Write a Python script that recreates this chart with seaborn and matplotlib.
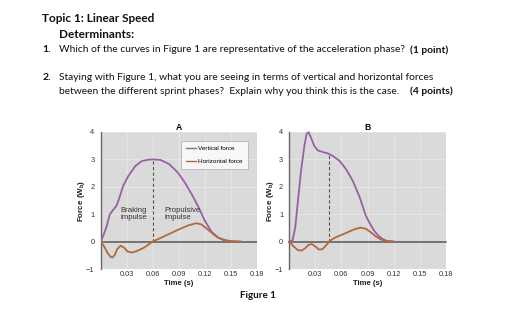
import matplotlib
matplotlib.use("Agg")
import matplotlib.pyplot as plt
import seaborn as sns
import pandas as pd

# ---------------- data ----------------
a_vert_t = [0, 0.003, 0.0066, 0.0105, 0.0144, 0.0183, 0.021, 0.026, 0.032, 0.040, 0.0475, 0.055, 0.060,
            0.069, 0.079, 0.089, 0.097, 0.105, 0.113, 0.120, 0.128, 0.136, 0.144, 0.151, 0.161]
a_vert_f = [0, 0.22, 0.53, 0.99, 1.16, 1.31, 1.55, 2.04, 2.40, 2.76, 2.94, 2.99, 3.0,
            2.98, 2.83, 2.52, 2.16, 1.73, 1.25, 0.77, 0.35, 0.14, 0.05, 0.01, 0]
a_hor_t = [0, 0.004, 0.008, 0.0115, 0.0135, 0.016, 0.019, 0.023, 0.027, 0.031, 0.036, 0.042, 0.050,
           0.056, 0.060, 0.073, 0.089, 0.101, 0.110, 0.116, 0.124, 0.134, 0.142, 0.151, 0.161]
a_hor_f = [0, -0.18, -0.42, -0.56, -0.58, -0.50, -0.28, -0.15, -0.22, -0.36, -0.40, -0.34, -0.22,
           -0.09, 0, 0.19, 0.43, 0.59, 0.67, 0.63, 0.43, 0.17, 0.05, 0.01, 0]

b_vert_t = [0, 0.0038, 0.0069, 0.0096, 0.0135, 0.0173, 0.020, 0.0223, 0.025, 0.0288, 0.0327, 0.0385,
            0.0442, 0.050, 0.0577, 0.0654, 0.073, 0.081, 0.088, 0.093, 0.098, 0.103, 0.108, 0.112, 0.120]
b_vert_f = [0, 0.05, 0.53, 1.38, 2.58, 3.49, 3.94, 3.99, 3.79, 3.49, 3.33, 3.27,
            3.22, 3.13, 2.95, 2.64, 2.22, 1.62, 0.95, 0.64, 0.38, 0.20, 0.08, 0.03, 0]
b_hor_t = [0, 0.005, 0.010, 0.014, 0.018, 0.022, 0.026, 0.030, 0.034, 0.038, 0.042, 0.046, 0.050,
           0.055, 0.065, 0.075, 0.082, 0.088, 0.093, 0.100, 0.106, 0.112, 0.120]
b_hor_f = [0, -0.18, -0.31, -0.33, -0.25, -0.12, -0.09, -0.18, -0.29, -0.28, -0.15, 0, 0.10,
           0.18, 0.31, 0.45, 0.51, 0.47, 0.36, 0.18, 0.07, 0.02, 0]

a_dash = (0.060, 3.0)
b_dash = (0.046, 3.22)

x_ticks = [0.03, 0.06, 0.09, 0.12, 0.15, 0.18]
x_tick_labels = ["0.03", "0.06", "0.09", "0.12", "0.15", "0.18"]
y_ticks = [-1, 0, 1, 2, 3, 4]
y_tick_labels = ["\u22121", "0", "1", "2", "3", "4"]
series_names = ["Vertical force", "Horizontal force"]

# ---------------- style ----------------
W, H = 532, 330
VCOL = "#9a5fa6"
HCOL = "#b06a3b"
BG = "#dadada"
GRID = "#ece5e5"
CHART_FONT = ["Liberation Sans", "DejaVu Sans"]
TEXT_FONT = ["Lato", "DejaVu Sans"]
TICK_FS = 5.3

fig = plt.figure(figsize=(W / 100, H / 100), dpi=100)
fig.patch.set_facecolor("white")


def px_axes(l, t, r, b):
    return fig.add_axes([l / W, 1 - b / H, (r - l) / W, (b - t) / H])


def style_axes(ax, title, dash):
    ax.set_facecolor(BG)
    ax.set_xlim(0, 0.18)
    ax.set_ylim(-1, 4)
    ax.set_xticks(x_ticks)
    ax.set_xticklabels(x_tick_labels, fontsize=TICK_FS, color="#333333", family=CHART_FONT)
    ax.set_yticks(y_ticks)
    ax.set_yticklabels(y_tick_labels, fontsize=TICK_FS, color="#333333", family=CHART_FONT)
    ax.tick_params(axis="both", length=0)
    ax.tick_params(axis="x", pad=1.2)
    ax.tick_params(axis="y", pad=4.5)
    ax.grid(True, color=GRID, linewidth=0.6)
    ax.set_axisbelow(True)
    for s in ["top", "right", "bottom"]:
        ax.spines[s].set_visible(False)
    ax.spines["left"].set_color("#666666")
    ax.spines["left"].set_linewidth(1.0)
    ax.axhline(0, color="#555555", linewidth=1.1, zorder=1)
    ax.plot([dash[0], dash[0]], [0, dash[1]], linestyle=(0, (3, 2)), color="#555555",
            linewidth=0.8, zorder=1.5)
    ax.set_xlabel("Time (s)", fontsize=5.6, fontweight="bold", color="#222222",
                  family=CHART_FONT, labelpad=1.5)
    ax.set_ylabel(r"Force (W$_\mathregular{b}$)", fontsize=5.8, fontweight="bold",
                  color="#222222", family=CHART_FONT, labelpad=-1.0)
    ax.set_title(title, fontsize=6.2, fontweight="bold", family=CHART_FONT, pad=1.8)


# Panel A
axA = px_axes(100.7, 132, 256.7, 269)
dfA_v = pd.DataFrame({"t": a_vert_t, "f": a_vert_f})
dfA_h = pd.DataFrame({"t": a_hor_t, "f": a_hor_f})
sns.lineplot(data=dfA_v, x="t", y="f", ax=axA, color=VCOL, linewidth=1.3, sort=False,
             estimator=None, label=series_names[0], zorder=3)
sns.lineplot(data=dfA_h, x="t", y="f", ax=axA, color=HCOL, linewidth=1.3, sort=False,
             estimator=None, label=series_names[1], zorder=3)
style_axes(axA, "A", a_dash)
axA.text(0.0378, 1.0, "Braking\nimpulse", ha="center", va="center", fontsize=5.6,
         color="#333333", family=CHART_FONT, linespacing=1.0)
axA.text(0.0735, 1.0, "Propulsive\nimpulse", ha="left", va="center", fontsize=5.6,
         color="#333333", family=CHART_FONT, linespacing=1.0)
leg = axA.legend(loc="upper right", frameon=True, fancybox=False,
                 handlelength=1.5, borderpad=0.75, labelspacing=1.15, handletextpad=0.45,
                 bbox_to_anchor=(0.963, 0.96), prop={"family": CHART_FONT, "size": 4.6})
leg.get_frame().set_facecolor("white")
leg.get_frame().set_edgecolor("#aaaaaa")
leg.get_frame().set_linewidth(0.6)
for line in leg.get_lines():
    line.set_linewidth(1.0)

# Panel B
axB = px_axes(289.3, 132, 445.7, 269)
dfB_v = pd.DataFrame({"t": b_vert_t, "f": b_vert_f})
dfB_h = pd.DataFrame({"t": b_hor_t, "f": b_hor_f})
sns.lineplot(data=dfB_v, x="t", y="f", ax=axB, color=VCOL, linewidth=1.3, sort=False,
             estimator=None, legend=False, zorder=3)
sns.lineplot(data=dfB_h, x="t", y="f", ax=axB, color=HCOL, linewidth=1.3, sort=False,
             estimator=None, legend=False, zorder=3)
style_axes(axB, "B", b_dash)
for ln in axB.get_lines():
    ln.set_clip_on(False)


def ftext(x, y, s, **kw):
    fig.text(x / W, 1 - y / H, s, va="center", family=TEXT_FONT, color="#111111", **kw)


QFS = 7.4
ftext(42.5, 19, "Topic 1: Linear Speed", fontsize=8.5, fontweight="bold")
ftext(58.5, 34, "Determinants:", fontsize=8.5, fontweight="bold")
ftext(42.5, 50, "1.", fontsize=QFS, fontweight="bold")
ftext(59, 50, "Which of the curves in Figure 1 are representative of the acceleration phase?",
      fontsize=QFS)
ftext(410.5, 50, "(1 point)", fontsize=QFS, fontweight="bold")
ftext(42.5, 77, "2.", fontsize=QFS, fontweight="bold")
ftext(59, 77, "Staying with Figure 1, what you are seeing in terms of vertical and horizontal forces",
      fontsize=QFS)
ftext(59, 91, "between the different sprint phases?  Explain why you think this is the case.",
      fontsize=QFS)
ftext(410.5, 91, "(4 points)", fontsize=QFS, fontweight="bold")
fig.text(258 / W, 1 - 296 / H, "Figure 1", ha="center", va="center", family=TEXT_FONT,
         fontsize=7.0, fontweight="bold", color="#111111")

fig.savefig("out.png", dpi=100)
